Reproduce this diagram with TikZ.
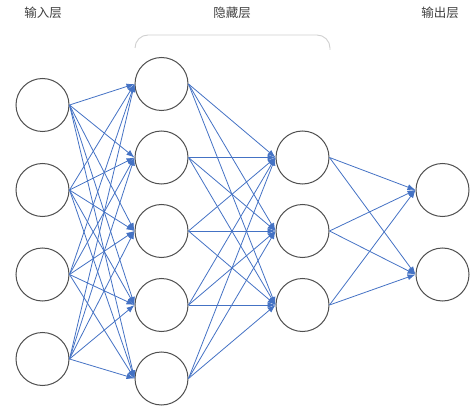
\documentclass[tikz,border=0pt]{standalone}
\usepackage{fontspec}
\newfontfamily\cjk{Noto Sans CJK SC}
\usetikzlibrary{arrows.meta}
\definecolor{edgeblue}{HTML}{4472C4}
\definecolor{ringgray}{HTML}{505050}
\definecolor{labelgray}{HTML}{404040}
\definecolor{bracegray}{HTML}{D0D0D0}
\tikzset{
  neuron/.style={circle, draw=ringgray, line width=1pt, minimum size=53pt, inner sep=0pt, fill=white},
  link/.style={draw=edgeblue, line width=0.8pt, -{Latex[length=8pt,width=6pt]}},
  layerlabel/.style={font=\cjk\fontsize{12.5pt}{14pt}\selectfont, text=labelgray, inner sep=0pt}
}
\begin{document}
\begin{tikzpicture}[x=1pt,y=-1pt]
\useasboundingbox (0,0) rectangle (474,409);
% labels
\node[layerlabel] (lin) at (43,13) {输入层};
\node[layerlabel] (lhid) at (232,13) {隐藏层};
\node[layerlabel] (lout) at (440,13) {输出层};
% brace
\draw[bracegray, line width=0.9pt, rounded corners=13pt] (135,48) -- (135,35) -- (330,35) -- (330,50);
% input layer
\foreach \i/\y in {1/105,2/190,3/274.5,4/359}
  \node[neuron] (a\i) at (42.5,\y) {};
% hidden 1
\foreach \i/\y in {1/84,2/157.5,3/231,4/305,5/378.5}
  \node[neuron] (b\i) at (161.5,\y) {};
% hidden 2
\foreach \i/\y in {1/157.5,2/231,3/305}
  \node[neuron] (c\i) at (302.5,\y) {};
% output
\foreach \i/\y in {1/190,2/274.5}
  \node[neuron] (d\i) at (442.5,\y) {};
% connections
\foreach \i in {1,...,4}
  \foreach \j in {1,...,5}
    \draw[link] (a\i.east) -- (b\j.west);
\foreach \i in {1,...,5}
  \foreach \j in {1,...,3}
    \draw[link] (b\i.east) -- (c\j.west);
\foreach \i in {1,...,3}
  \foreach \j in {1,2}
    \draw[link] (c\i.east) -- (d\j.west);
\end{tikzpicture}
\end{document}
